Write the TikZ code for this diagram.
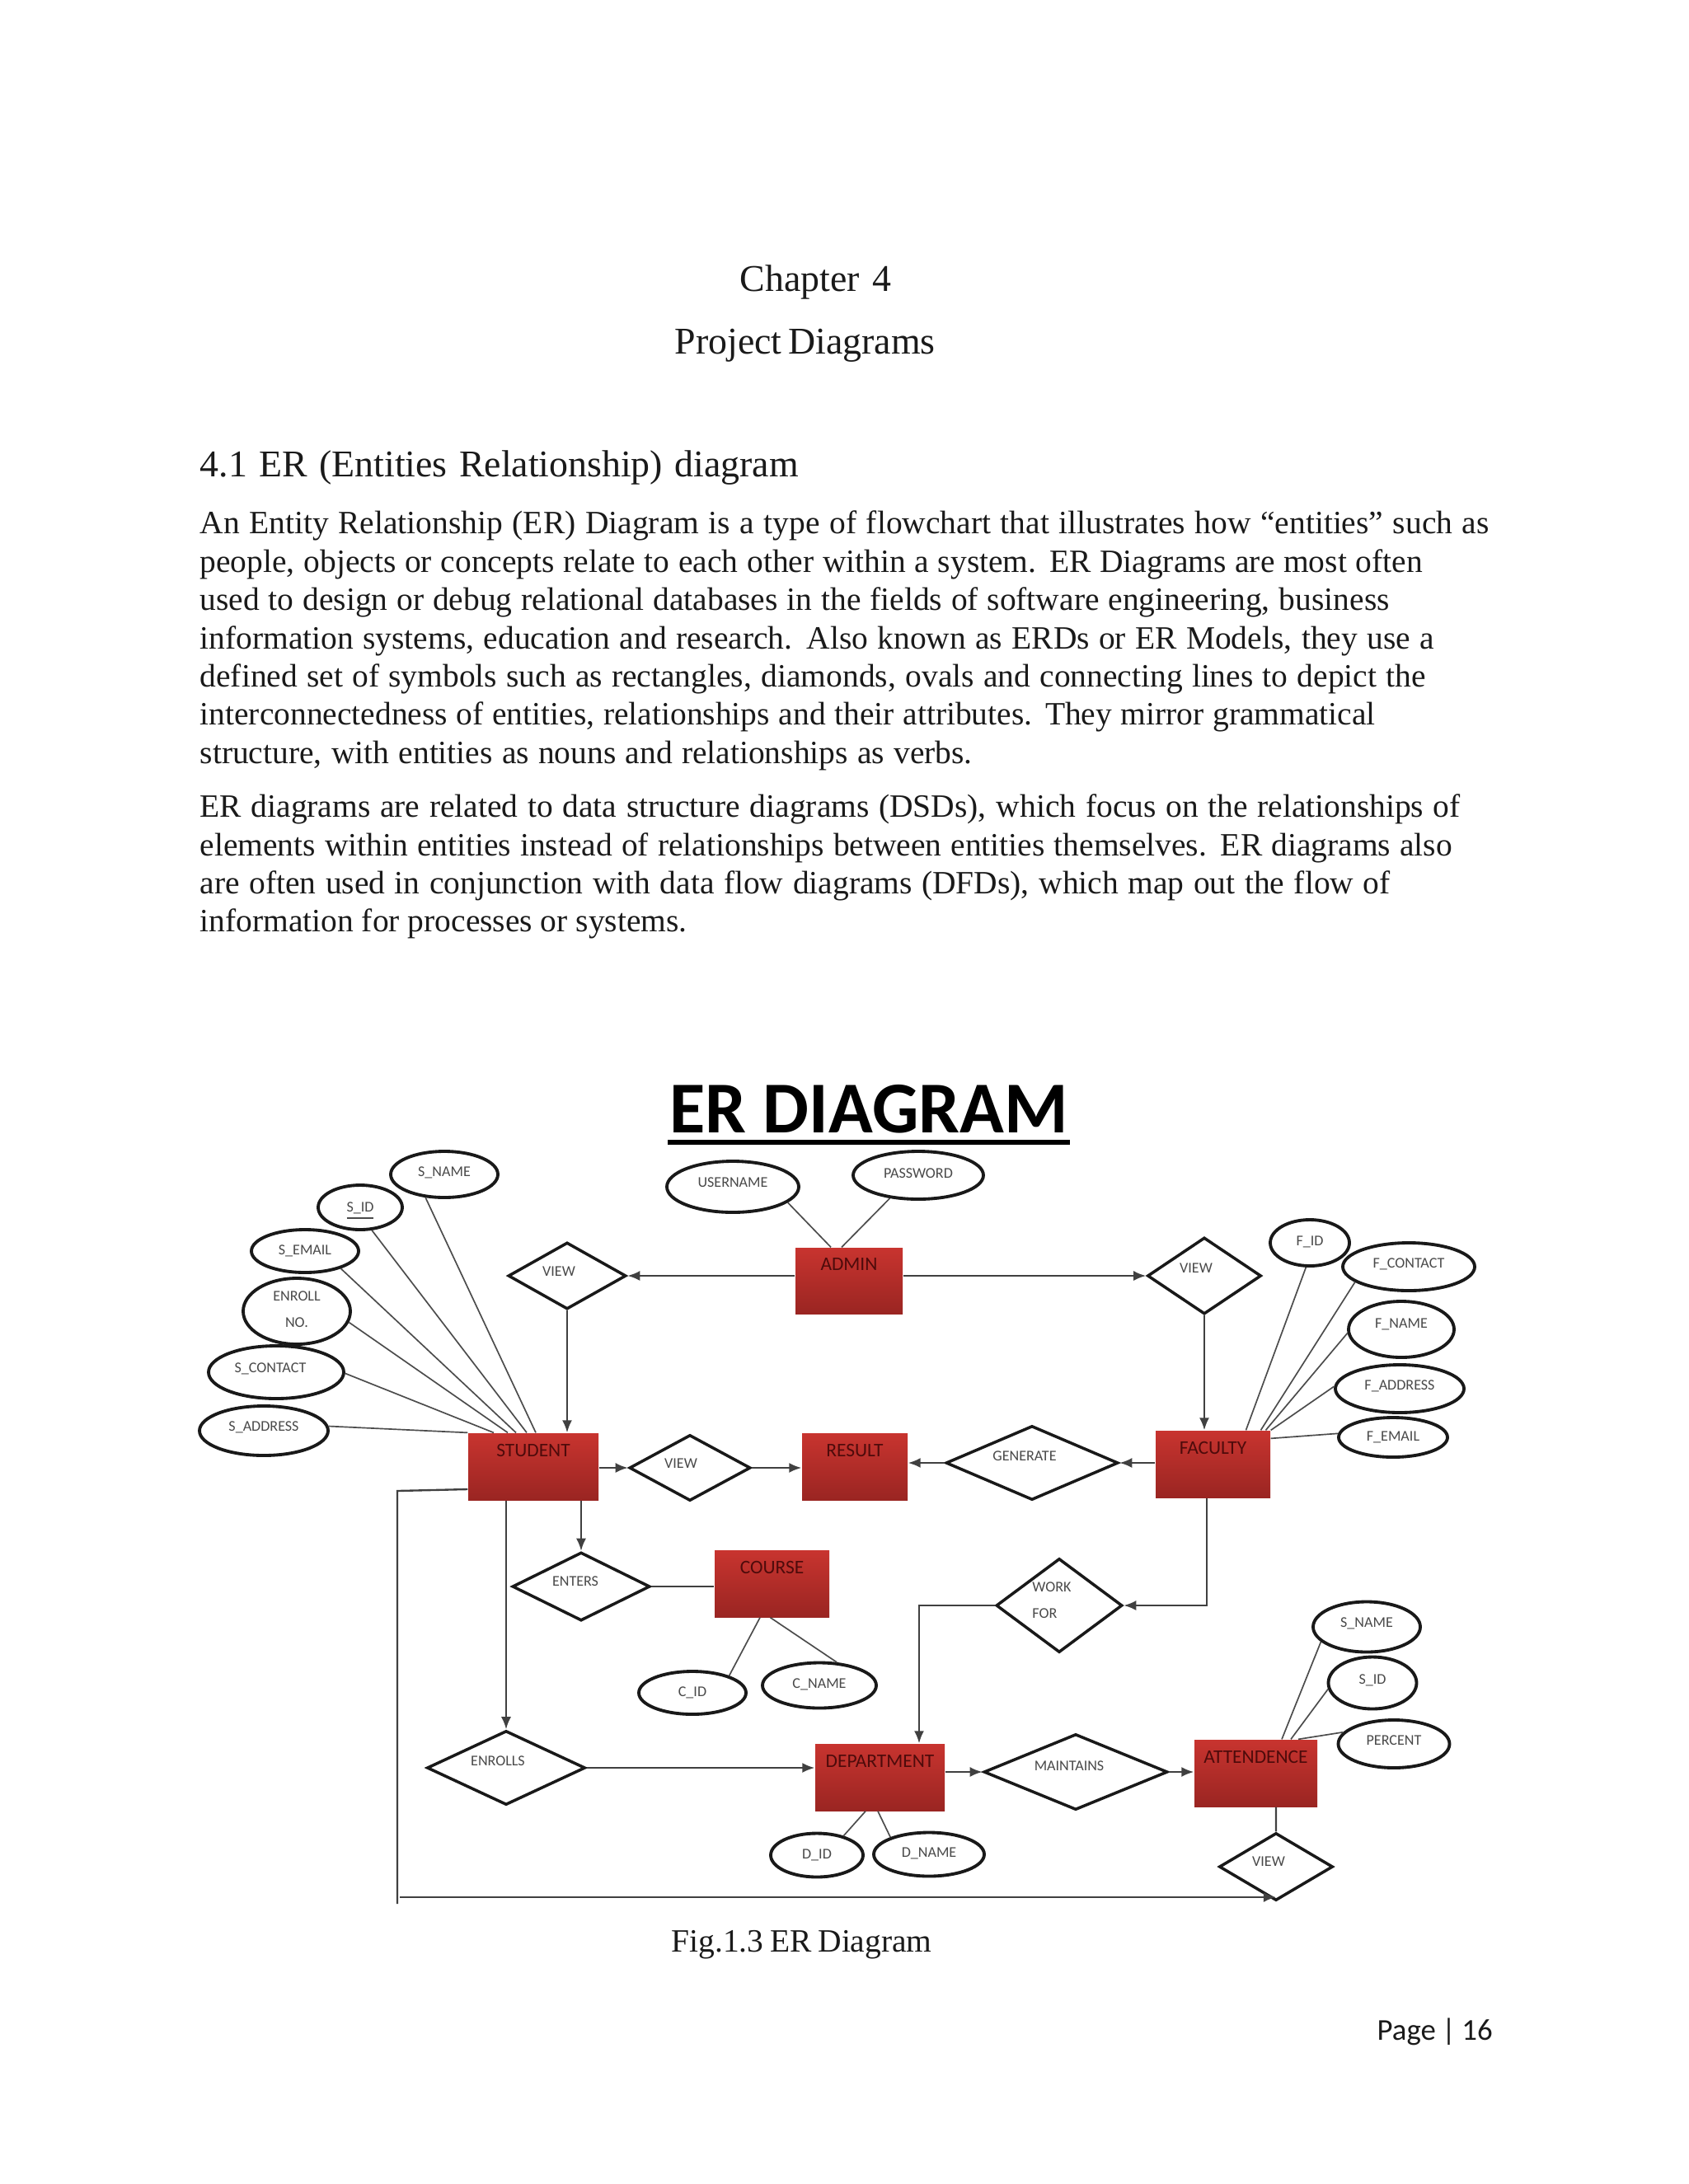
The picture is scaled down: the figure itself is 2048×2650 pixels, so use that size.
\documentclass[tikz,border=0pt]{standalone}
\usepackage{fontspec}
\setmainfont{Liberation Serif}
\newfontfamily\calfont{Carlito}
\usetikzlibrary{shapes.geometric,arrows.meta}
\newdimen\pxu \pxu=0.29883bp
\newcommand{\px}[1]{#1*0.29883bp}
\newcommand{\lbl}[3]{\smash{\raisebox{\dimexpr #2\pxu-0.32em\relax}{\makebox[0pt][c]{\hspace*{\dimexpr 2\pxu*\numexpr #1\relax\relax}#3}}}}
\definecolor{enttop}{HTML}{C8342F}
\definecolor{entbot}{HTML}{9A2522}
\definecolor{enttext}{HTML}{4E0B0B}
\definecolor{attrtext}{HTML}{4A4A4A}
\definecolor{bodytext}{HTML}{1A1A1A}
\tikzset{
 attr/.style n args={2}{ellipse,draw=black!90,fill=white,line width=1.15bp,inner sep=0pt,minimum width=\px{#1},minimum height=\px{#2},font=\calfont\fontsize{5.4bp}{6.5bp}\selectfont,text=attrtext},
 rel/.style n args={2}{diamond,draw=black!90,fill=white,line width=1.05bp,inner sep=0pt,minimum width=\px{#1},minimum height=\px{#2},font=\calfont\fontsize{5.4bp}{6.5bp}\selectfont,text=attrtext},
 ent/.style n args={2}{rectangle,top color=enttop,bottom color=entbot,draw=none,inner sep=0pt,minimum width=\px{#1},minimum height=\px{#2},font=\calfont\fontsize{7bp}{8bp}\selectfont,text=enttext},
 thinl/.style={draw=black!70,line width=0.5bp},
 link/.style={draw=black!75,line width=0.7bp},
 arr/.style={draw=black!75,line width=0.7bp,-{Latex[length=4.5bp,width=3.6bp]}},
 tline/.style={anchor=base west,inner sep=0pt,text=bodytext,font=\fontsize{11.8bp}{14bp}\selectfont},
 head/.style={anchor=base west,inner sep=0pt,text=bodytext,font=\fontsize{13.7bp}{16bp}\selectfont},
}
\newcommand{\bodyline}[4]{\node[tline] (#1) at (242,#2) {\makebox[\dimexpr #3\pxu\relax][s]{#4}};}
\begin{document}
\begin{tikzpicture}[x=0.29883bp,y=-0.29883bp]
\useasboundingbox (0,0) rectangle (2048,2650);
\fill[white] (0,0) rectangle (2048,2650);
% page text
\node[head] (ch) at (897,353) {\makebox[\dimexpr 184\pxu\relax][s]{Chapter 4}};
\node[head] (pd) at (818,429) {\makebox[\dimexpr 316\pxu\relax][s]{Project Diagrams}};
\node[head] (sec) at (242,578) {\makebox[\dimexpr 726\pxu\relax][s]{4.1 ER (Entities Relationship) diagram}};
\bodyline{b1}{647}{1564}{An Entity Relationship (ER) Diagram is a type of flowchart that illustrates how “entities” such as}
\bodyline{b2}{694}{1483}{people, objects or concepts relate to each other within a system. ER Diagrams are most often}
\bodyline{b3}{740}{1443}{used to design or debug relational databases in the fields of software engineering, business}
\bodyline{b4}{787}{1497}{information systems, education and research. Also known as ERDs or ER Models, they use a}
\bodyline{b5}{833}{1487}{defined set of symbols such as rectangles, diamonds, ovals and connecting lines to depict the}
\bodyline{b6}{879}{1426}{interconnectedness of entities, relationships and their attributes. They mirror grammatical}
\bodyline{b7}{926}{937}{structure, with entities as nouns and relationships as verbs.}
\bodyline{b8}{991}{1529}{ER diagrams are related to data structure diagrams (DSDs), which focus on the relationships of}
\bodyline{b9}{1038}{1519}{elements within entities instead of relationships between entities themselves. ER diagrams also}
\bodyline{b10}{1084}{1444}{are often used in conjunction with data flow diagrams (DFDs), which map out the flow of}
\bodyline{b11}{1130}{591}{information for processes or systems.}
\node[tline] (fig) at (814,2368) {\makebox[\dimexpr 316\pxu\relax][s]{Fig.1.3 ER Diagram}};
\node[anchor=base west,inner sep=0pt,text=bodytext,font=\calfont\fontsize{11bp}{14bp}\selectfont] (pg) at (1670,2475) {\makebox[\dimexpr 140\pxu\relax][s]{Page | 16}};
% title
\node[anchor=base west,inner sep=0pt,font=\calfont\bfseries\fontsize{26.5bp}{30bp}\selectfont] (title) at (812,1374) {ER DIAGRAM};
\fill[black] (810,1383) rectangle (1298,1389);
% entities
\node[ent={158}{81}] (student) at (647,1779.5) {\lbl{0}{20}{STUDENT}};
\node[ent={130}{80}] (admin) at (1030,1554) {\lbl{0}{20}{ADMIN}};
\node[ent={128}{81}] (result) at (1037,1779.5) {\lbl{0}{20}{RESULT}};
\node[ent={139}{81}] (faculty) at (1471.5,1776.5) {\lbl{0}{20}{FACULTY}};
\node[ent={139}{81}] (course) at (936.5,1921.5) {\lbl{0}{20}{COURSE}};
\node[ent={157}{81}] (dept) at (1067.5,2156.5) {\lbl{0}{20}{DEPARTMENT}};
\node[ent={149}{81}] (attend) at (1523.5,2151.5) {\lbl{0}{20}{ATTENDENCE}};
% student attributes
\node[attr={130}{56}] (sname) at (539,1425) {\lbl{0}{3}{S\_NAME}};
\node[attr={102}{54}] (sid) at (437,1465) {\lbl{0}{0}{\underline{S\_ID}}};
\node[attr={130}{52}] (semail) at (370,1518) {\lbl{0}{1}{S\_EMAIL}};
\node[attr={130}{80}] (senroll) at (360,1591) {\lbl{0}{-14}{\shortstack{ENROLL\\[3.2bp]NO.}}};
\node[attr={164}{64}] (scontact) at (335,1665) {\lbl{-7}{5}{S\_CONTACT}};
\node[attr={156}{60}] (saddress) at (320,1736) {\lbl{0}{5}{S\_ADDRESS}};
% admin attributes
\node[attr={160}{62}] (username) at (889,1440) {\lbl{0}{5}{USERNAME}};
\node[attr={158}{58}] (password) at (1114,1426) {\lbl{0}{2}{PASSWORD}};
% faculty attributes
\node[attr={96}{56}] (fid) at (1589,1508) {\lbl{0}{2}{F\_ID}};
\node[attr={160}{58}] (fcontact) at (1709,1537) {\lbl{0}{4}{F\_CONTACT}};
\node[attr={128}{68}] (fname) at (1700,1613) {\lbl{0}{7}{F\_NAME}};
\node[attr={156}{58}] (fadd) at (1698,1685) {\lbl{0}{4}{F\_ADDRESS}};
\node[attr={132}{48}] (femail) at (1690,1744) {\lbl{0}{1}{F\_EMAIL}};
% course / dept / attendance attributes
\node[attr={130}{52}] (cid) at (840,2054) {\lbl{0}{1}{C\_ID}};
\node[attr={138}{55}] (cname) at (994,2045) {\lbl{0}{2}{C\_NAME}};
\node[attr={112}{53}] (did) at (991,2251) {\lbl{0}{1}{D\_ID}};
\node[attr={134}{53}] (dname) at (1127,2250) {\lbl{0}{2}{D\_NAME}};
\node[attr={130}{61}] (aname) at (1658,1974) {\lbl{0}{5}{S\_NAME}};
\node[attr={107}{63}] (aid) at (1665,2042) {\lbl{0}{4}{S\_ID}};
\node[attr={135}{58}] (apercent) at (1691,2116) {\lbl{0}{4}{PERCENT}};
% relationships
\node[rel={143}{81}] (view1) at (688,1548) {\lbl{-10}{5}{VIEW}};
\node[rel={138}{93}] (view2) at (1461,1548) {\lbl{-10}{9}{VIEW}};
\node[rel={147}{80}] (view3) at (837,1781) {\lbl{-11}{5}{VIEW}};
\node[rel={209}{90}] (generate) at (1252,1775) {\lbl{-9}{8}{GENERATE}};
\node[rel={167}{83}] (enters) at (705,1925) {\lbl{-7}{6}{ENTERS}};
\node[rel={192}{90}] (enrolls) at (614,2145) {\lbl{-10}{8}{ENROLLS}};
\node[rel={153}{114}] (workfor) at (1285,1948) {\lbl{-9}{-10}{\shortstack[l]{WORK\\[3.2bp]FOR}}};
\node[rel={223}{92}] (maintains) at (1305,2150) {\lbl{-8}{7}{MAINTAINS}};
\node[rel={138}{82}] (view4) at (1548,2265) {\lbl{-9}{6}{VIEW}};
% attribute links
\draw[thinl] (sname.-129) -- ([xshift=\px{3}]student.north);
\draw[thinl] (sid.-63) -- ([xshift=\px{-8}]student.north);
\draw[thinl] (semail.-26) -- ([xshift=\px{-21}]student.north);
\draw[thinl] (senroll.-12) -- ([xshift=\px{-31}]student.north);
\draw[thinl] (scontact.-1) -- ([xshift=\px{-48}]student.north);
\draw[thinl] (saddress.4) -- (student.north west);
\draw[thinl] (username.-16) -- ([xshift=\px{-22}]admin.north);
\draw[thinl] (password.-141) -- ([xshift=\px{-9}]admin.north);
\draw[thinl] (fid.-99) -- ([xshift=\px{40}]faculty.north);
\draw[thinl] (fcontact.-164) -- ([xshift=\px{58}]faculty.north);
\draw[thinl] (fname.-176) -- ([xshift=\px{64}]faculty.north);
\draw[thinl] (fadd.178) -- (faculty.north east);
\draw[thinl] (femail.176) -- ([yshift=\px{-10}]faculty.east |- faculty.north);
\draw[thinl] (cid.25) -- ([xshift=\px{-14.5}]course.south);
\draw[thinl] (cname.53) -- ([xshift=\px{-2}]course.south);
\draw[thinl] (did.36) -- ([xshift=\px{-17.5}]dept.south);
\draw[thinl] (dname.156) -- ([xshift=\px{-2.5}]dept.south);
\draw[thinl] (aname.-162) -- ([xshift=\px{31.5}]attend.north);
\draw[thinl] (aid.-172) -- ([xshift=\px{42.5}]attend.north);
\draw[thinl] (apercent.167) -- ([xshift=\px{51.5}]attend.north);
% relationship links
\draw[arr] (admin.west |- view1.east) -- (view1.east);
\draw[arr] (admin.east |- view2.west) -- (view2.west);
\draw[arr] (view1.south) -- ([xshift=\px{41}]student.north);
\draw[arr] (view2.south) -- ([xshift=\px{-10.5}]faculty.north);
\draw[arr] (student.east |- view3.west) -- (view3.west);
\draw[arr] (view3.east) -- (result.west |- view3.east);
\draw[arr] (faculty.west |- generate.east) -- (generate.east);
\draw[arr] (generate.west) -- (result.east |- generate.west);
\draw[arr] ([xshift=\px{58}]student.south) -- (enters.north);
\draw[link] (enters.east) -- (course.west |- enters.east);
\draw[arr] ([xshift=\px{-33}]student.south) -- (enrolls.north);
\draw[arr] (enrolls.east) -- (dept.west |- enrolls.east);
\draw[arr] ([xshift=\px{-7.5}]faculty.south) |- (workfor.east);
\draw[arr] (workfor.west) -| ([xshift=\px{47.5}]dept.north);
\draw[arr] (dept.east |- maintains.west) -- (maintains.west);
\draw[arr] (maintains.east) -- (attend.west |- maintains.east);
\draw[link] ([xshift=\px{24.5}]attend.south) -- (view4.north);
\coordinate (loopend) at (482,2310);
\coordinate (loopstart) at (485,2302);
\draw[link] (student.west |- 0,1807) -- (482,1809) -- (loopend);
\draw[arr,line width=0.8bp] (loopstart) -- (view4.south |- loopstart);
\end{tikzpicture}
\end{document}
